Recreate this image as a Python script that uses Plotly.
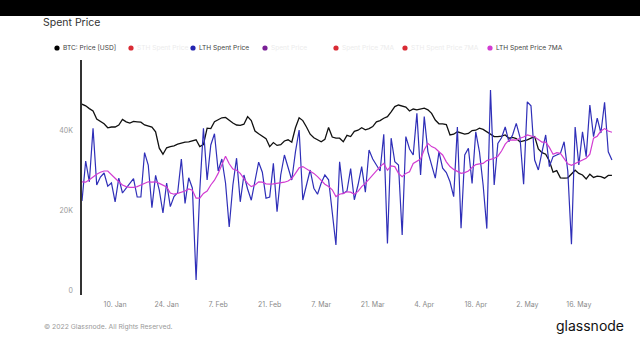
import plotly.graph_objects as go
import pandas as pd

# ---- data ----
start_date = "2022-01-01"
n_days = 145
btc_price = [46.7, 46.3, 45.6, 45.0, 43.0, 42.3, 41.8, 40.8, 41.0, 41.0,
             41.5, 42.9, 42.3, 42.0, 42.4, 42.3, 42.2, 41.5, 41.3, 41.0,
             39.8, 35.7, 34.2, 35.8, 36.1, 36.3, 36.7, 37.0, 37.2, 37.3,
             37.5, 37.8, 36.1, 36.6, 40.7, 40.6, 42.3, 42.8, 43.3, 43.4,
             42.6, 42.0, 41.5, 41.4, 41.7, 43.6, 42.6, 40.0, 39.3, 38.8,
             38.1, 36.1, 37.1, 36.4, 36.6, 37.5, 37.8, 37.2, 40.8, 43.3,
             42.6, 41.0, 39.2, 38.3, 37.9, 37.3, 37.9, 40.9, 38.5, 38.2,
             38.2, 37.3, 38.9, 38.6, 39.9, 40.2, 40.8, 40.3, 40.6, 41.1,
             42.3, 42.6, 43.2, 43.6, 44.8, 46.1, 46.5, 46.3, 46.0, 45.0,
             45.5, 45.3, 45.5, 45.7, 45.3, 44.4, 42.75, 41.8, 41.8, 41.6,
             39.0, 39.2, 39.8, 39.5, 39.2, 39.4, 40.1, 40.2, 40.7, 40.4,
             39.8, 39.0, 38.6, 38.6, 38.7, 39.0, 38.2, 38.4, 38.1, 37.3,
             37.5, 37.8, 38.2, 38.6, 35.5, 34.6, 34.2, 32.5, 29.7, 30.1,
             28.3, 28.2, 28.3, 29.2, 30.2, 29.4, 29.0, 28.0, 29.2, 28.4,
             28.7, 28.6, 28.2, 28.9, 28.9]
lth_spent_price = [22.5, 32.5, 27.3, 40.7, 26.5, 28.5, 29.5, 26.2, 27.0, 22.3,
                   28.2, 24.5, 25.7, 27.0, 28.1, 23.5, 23.5, 34.6, 31.5, 20.8,
                   28.9, 25.2, 19.5, 27.0, 21.1, 23.6, 24.6, 33.0, 21.9, 28.3,
                   25.7, 2.75, 25.0, 40.7, 27.75, 36.5, 39.3, 30.0, 33.0, 27.0,
                   16.0, 26.5, 33.2, 22.3, 29.0, 25.5, 22.7, 27.5, 32.2, 29.7,
                   23.2, 23.5, 31.9, 19.8, 29.0, 34.0, 31.1, 27.75, 34.8, 40.25,
                   22.75, 26.5, 30.25, 25.7, 24.2, 27.0, 29.0, 27.8, 20.0, 11.5,
                   32.3, 24.4, 25.0, 30.6, 22.8, 26.5, 31.1, 24.7, 35.25, 33.0,
                   31.5, 30.0, 39.2, 11.9, 38.2, 32.3, 31.5, 14.0, 38.6, 35.5,
                   34.0, 44.4, 29.0, 43.6, 34.8, 31.5, 28.2, 34.8, 30.7, 29.6,
                   27.3, 23.6, 41.0, 15.7, 34.0, 35.7, 26.9, 39.8, 34.8, 26.5,
                   15.6, 50.25, 26.5, 36.9, 38.3, 41.0, 37.3, 39.0, 41.9, 38.5,
                   26.7, 47.3, 46.3, 32.75, 30.25, 34.8, 39.0, 31.1, 33.6, 34.0,
                   34.4, 37.3, 30.0, 11.7, 41.0, 31.5, 39.8, 33.6, 46.5, 38.6,
                   43.2, 39.5, 47.2, 34.8, 32.75]
lth_spent_price_7ma = [27.3, 27.2, 27.8, 28.6, 29.2, 29.7, 30.0, 30.0, 29.2, 28.2,
                       27.3, 26.5, 26.1, 25.9, 25.9, 26.1, 26.5, 26.9, 27.3, 27.2,
                       27.3, 26.9, 26.5, 26.0, 24.5, 24.2, 24.4, 24.7, 25.0, 25.5,
                       25.2, 23.2, 23.2, 24.4, 25.0, 26.5, 27.7, 29.4, 31.4, 33.7,
                       31.8, 30.5, 30.2, 29.4, 28.1, 26.9, 26.1, 26.5, 27.3, 27.2,
                       26.8, 26.7, 26.8, 26.9, 27.1, 27.2, 27.5, 28.1, 29.4, 30.8,
                       31.1, 30.6, 30.0, 29.4, 28.6, 27.7, 26.7, 26.1, 25.3, 23.6,
                       24.2, 24.4, 24.8, 24.7, 24.2, 24.9, 26.1, 26.9, 28.0, 29.0,
                       30.0, 31.1, 31.9, 30.2, 31.3, 31.1, 29.4, 28.6, 29.4, 29.8,
                       31.9, 32.5, 33.0, 35.3, 36.9, 36.1, 35.7, 34.8, 34.0, 32.3,
                       31.1, 30.4, 29.8, 29.4, 29.6, 30.0, 30.9, 31.6, 31.8, 31.9,
                       32.6, 32.9, 33.2, 33.7, 35.0, 36.7, 37.7, 37.8, 37.7, 38.2,
                       38.5, 39.0, 38.7, 38.5, 37.9, 37.2, 37.2, 35.9, 34.2, 34.6,
                       34.4, 33.2, 31.8, 31.4, 31.8, 32.2, 32.7, 33.2, 34.2, 38.2,
                       38.7, 40.0, 40.6, 40.0, 39.7]
tick_dates = ["2022-01-10", "2022-01-24", "2022-02-07", "2022-02-21", "2022-03-07",
              "2022-03-21", "2022-04-04", "2022-04-18", "2022-05-02", "2022-05-16"]
tick_labels = ["10. Jan", "24. Jan", "7. Feb", "21. Feb", "7. Mar",
               "21. Mar", "4. Apr", "18. Apr", "2. May", "16. May"]
y_ticks = [0, 20000, 40000]
y_tick_labels = ["0", "20K", "40K"]
legend_names = ["BTC: Price [USD]", "STH Spent Price", "LTH Spent Price", "Spent Price",
                "Spent Price 7MA", "STH Spent Price 7MA", "LTH Spent Price 7MA"]
legend_colors = ["#000000", "#d92b34", "#2424b0", "#7a2096", "#d92b34", "#d92b34", "#d23cd2"]
legend_active = [True, False, True, False, False, False, True]

W, H = 640, 360
dates = pd.date_range(start_date, periods=n_days, freq="D")
k = 1000

fig = go.Figure()
fig.add_trace(go.Scatter(x=dates, y=[v * k for v in btc_price], mode="lines",
                         line=dict(color="#111111", width=1.3), name="BTC: Price [USD]"))
fig.add_trace(go.Scatter(x=dates, y=[v * k for v in lth_spent_price], mode="lines",
                         line=dict(color="#2f2fb8", width=1.2), name="LTH Spent Price"))
fig.add_trace(go.Scatter(x=dates, y=[v * k for v in lth_spent_price_7ma], mode="lines",
                         line=dict(color="#d23cd2", width=1.2), name="LTH Spent Price 7MA"))

def px(x):
    return x / W

def py(y):
    return 1 - y / H

shapes = [dict(type="rect", xref="paper", yref="paper", x0=0, x1=1, y0=py(16), y1=1,
               fillcolor="#000000", line=dict(width=0), layer="above")]
annotations = [
    dict(text="Spent Price", x=px(41), y=py(22), xref="paper", yref="paper",
         xanchor="left", yanchor="middle", showarrow=False,
         font=dict(family="Inter", size=10.5, color="#333333")),
    dict(text="© 2022 Glassnode. All Rights Reserved.", x=px(42), y=py(326),
         xref="paper", yref="paper", xanchor="left", yanchor="middle", showarrow=False,
         font=dict(family="Inter", size=6.8, color="#9a9a9a")),
    dict(text="glassnode", x=px(626), y=py(325), xref="paper", yref="paper",
         xanchor="right", yanchor="middle", showarrow=False,
         font=dict(family="Inter", size=14, color="#111111")),
]
legend_x = [57, 131, 193, 265, 336, 405, 490]
for lx, name, col, act in zip(legend_x, legend_names, legend_colors, legend_active):
    shapes.append(dict(type="circle", xref="paper", yref="paper",
                       x0=px(lx - 2.6), x1=px(lx + 2.6), y0=py(48 + 2.6), y1=py(48 - 2.6),
                       fillcolor=col, line=dict(width=0)))
    annotations.append(dict(text=name, x=px(lx + 4), y=py(48), xref="paper", yref="paper",
                            xanchor="left", yanchor="middle", showarrow=False,
                            font=dict(family="Inter", size=6.6,
                                      color="#444444" if act else "#ececec")))

fig.update_layout(
    width=W, height=H, margin=dict(l=0, r=0, t=0, b=0),
    paper_bgcolor="white", plot_bgcolor="white", showlegend=False,
    shapes=shapes, annotations=annotations,
    xaxis=dict(domain=[px(82), px(617)], type="date",
               range=["2022-01-01", "2022-05-26 09:00"],
               tickvals=tick_dates, ticktext=tick_labels, showgrid=False, zeroline=False,
               showline=False, ticks="outside", ticklen=3, tickcolor="rgba(0,0,0,0)",
               tickfont=dict(family="Inter", size=7, color="#8a8a8a")),
    yaxis=dict(domain=[py(295), py(60)], range=[-1000, 57750],
               tickvals=y_ticks, ticktext=y_tick_labels, showgrid=False, zeroline=False,
               showline=True, linecolor="#333333", linewidth=1.5,
               ticks="outside", ticklen=6, tickcolor="rgba(0,0,0,0)",
               tickfont=dict(family="Inter", size=7, color="#9a9a9a")),
)

fig.write_html("out.html", config={"displayModeBar": False},
               post_script="document.body.style.margin='0';document.body.style.overflow='hidden';")
